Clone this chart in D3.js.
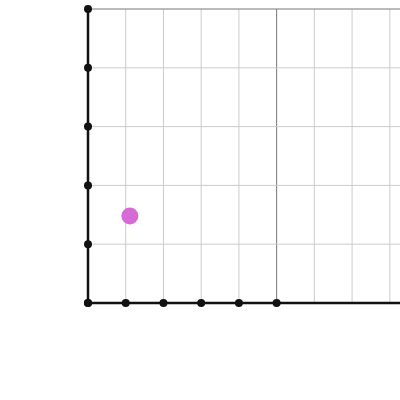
<!DOCTYPE html><html><head><script src="https://d3js.org/d3.v7.min.js"></script>
<style>body{margin:0;background:#fff}</style></head><body><svg id="c" width="400" height="400"></svg>
<script>
const xGrid=[1,2,3,4,5,6,7,8];
const yGrid=[1,2,3,4,5];
const xDots=[0,1,2,3,4,5];
const yDots=[0,1,2,3,4,5];
const majorX=[5], majorY=[5];
const points=[{x:1.11,y:1.48}];
const svg=d3.select("#c");
const x=d3.scaleLinear().domain([0,8.27]).range([88,400]);
const y=d3.scaleLinear().domain([0,5]).range([303,9]);
svg.selectAll(".gx").data(xGrid).join("line").attr("x1",d=>x(d)).attr("x2",d=>x(d)).attr("y1",y(0)).attr("y2",y(5))
 .attr("stroke",d=>majorX.includes(d)?"#777":"#ccc").attr("stroke-width",1);
svg.selectAll(".gy").data(yGrid).join("line").attr("y1",d=>y(d)).attr("y2",d=>y(d)).attr("x1",x(0)).attr("x2",400)
 .attr("stroke",d=>majorY.includes(d)?"#777":"#ccc").attr("stroke-width",1);
svg.append("line").attr("x1",x(0)).attr("x2",400).attr("y1",y(0)).attr("y2",y(0)).attr("stroke","#111").attr("stroke-width",2.5);
svg.append("line").attr("x1",x(0)).attr("x2",x(0)).attr("y1",y(0)).attr("y2",y(5)).attr("stroke","#111").attr("stroke-width",2.5);
svg.selectAll(".dx").data(xDots).join("circle").attr("cx",d=>x(d)).attr("cy",y(0)).attr("r",4).attr("fill","#111");
svg.selectAll(".dy").data(yDots).join("circle").attr("cx",x(0)).attr("cy",d=>y(d)).attr("r",4).attr("fill","#111");
svg.selectAll(".p").data(points).join("circle").attr("cx",d=>x(d.x)).attr("cy",d=>y(d.y)).attr("r",8.5).attr("fill","#d66ad6");
</script></body></html>
